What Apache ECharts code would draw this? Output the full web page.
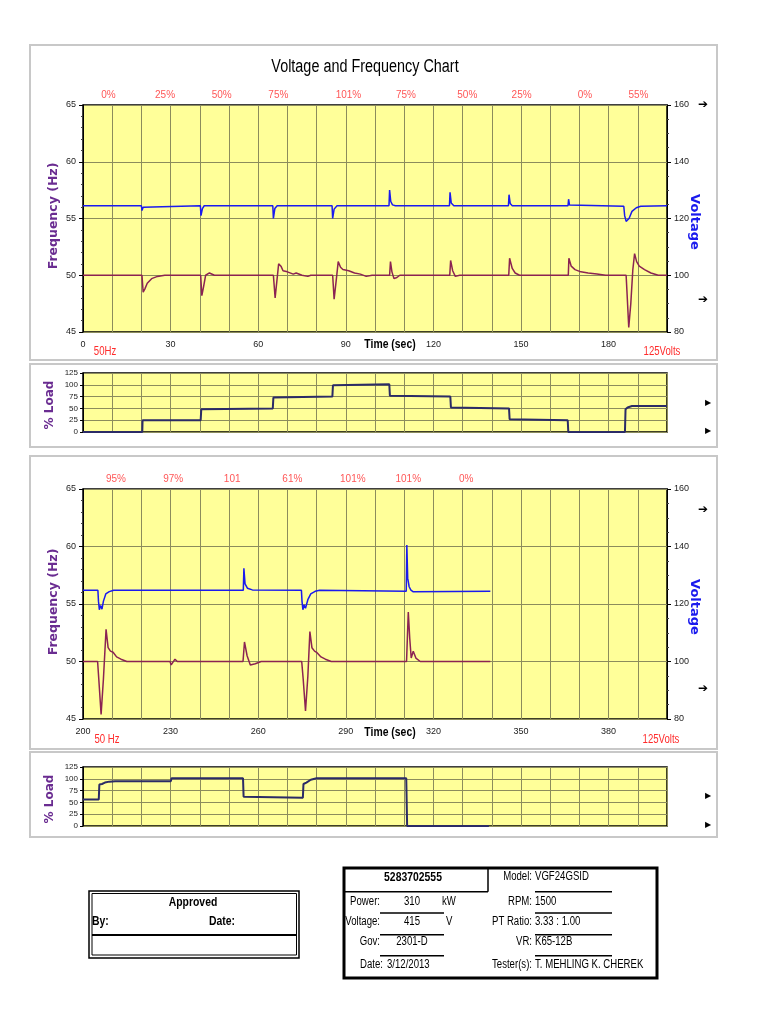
<!DOCTYPE html>
<html>
<head>
<meta charset="utf-8">
<script src="https://cdn.jsdelivr.net/npm/echarts@6/dist/echarts.min.js"></script>
<style>
  html, body { margin: 0; padding: 0; background: #fff; }
  #chart { width: 768px; height: 1024px; }
</style>
</head>
<body>
<div id="chart"></div>
<script>
// --- data ---
// frequency (Hz) and voltage (V) against time (s), first run 0-200 s
var freqTop = [
  [0, 50], [20.2, 50], [20.6, 48.5], [21.2, 48.8], [22, 49.3], [23.5, 49.7], [25.5, 49.9], [28, 50],
  [40.3, 50], [40.7, 48.2], [41.3, 49], [42, 50], [43.3, 50.2], [45, 50],
  [65.2, 50], [65.8, 48], [66.4, 49.5], [67, 51], [67.8, 50.8], [68.5, 50.4], [70, 50.3], [72, 50.1], [73, 50.2], [75, 50], [77, 49.9], [78, 50],
  [85.5, 50], [86, 47.9], [86.7, 49.5], [87.4, 51.2], [88.2, 50.7], [89, 50.5], [91, 50.4], [93, 50.2], [95, 50.1], [97, 49.9], [99, 50],
  [105, 50], [105.3, 51.2], [105.8, 50.3], [106.5, 49.7], [107.5, 49.8], [108.5, 50],
  [125.6, 50], [125.9, 51.3], [126.6, 50.4], [127.5, 49.9], [129, 50],
  [145.8, 50], [146.1, 51.5], [147, 50.6], [148, 50.2], [149.5, 50],
  [166.2, 50], [166.4, 51.5], [167.2, 50.8], [168.5, 50.5], [170.5, 50.3], [173, 50.2], [176, 50.1], [179, 50],
  [186, 50], [186.3, 48.5], [186.9, 45.4], [187.6, 47.5], [188.3, 50.5], [188.9, 51.9], [189.6, 51.2], [190.5, 50.8], [192.3, 50.5], [194.5, 50.2], [197, 50], [200, 50]
];
var voltTop = [
  [0, 124.5], [20, 124.5], [20.2, 122.8], [20.6, 124], [21, 124.5],
  [40.2, 124.5], [40.4, 121], [40.9, 123.5], [41.5, 124.5],
  [65, 124.5], [65.2, 120], [65.7, 123.5], [66.5, 124.5],
  [85.3, 124.5], [85.5, 120], [86, 123.3], [87, 124.5],
  [104.8, 124.5], [105, 130], [105.4, 126], [106, 124.8], [107, 124.5],
  [125.5, 124.5], [125.7, 129.2], [126.1, 125.5], [127, 124.5],
  [145.7, 124.5], [145.9, 128.4], [146.3, 125.3], [147, 124.5],
  [166.1, 124.5], [166.3, 126.8], [166.6, 124.8], [167, 124.3],
  [185.2, 124.3], [185.5, 121], [186, 119], [186.5, 118.5], [187, 120], [188, 122.5], [189.5, 123.8], [191, 124.3], [200, 124.5]
];
// % load, first run
var loadTop = [
  [0, 0], [20.3, 0], [20.4, 25], [40.3, 25], [40.5, 48], [41, 50], [65, 50], [65.2, 73], [65.7, 75],
  [85.4, 75], [85.6, 99], [86, 101], [104.9, 101], [105.1, 77], [105.6, 75], [125.8, 75], [126, 52], [126.5, 50],
  [145.9, 50], [146.1, 27], [146.5, 25], [166, 25], [166.2, 0], [185.6, 0], [185.8, 48], [186.5, 52], [188, 55], [200, 55]
];
// second run 200-400 s
var freqBottom = [
  [200, 50], [205, 50], [205.4, 48.5], [206.2, 45.4], [207, 48.5], [207.9, 52.8], [208.6, 51.2], [209.4, 50.9], [210.3, 50.8], [211.5, 50.4], [213, 50.2], [215, 50],
  [229.8, 50], [230.2, 49.7], [230.8, 49.8], [231.5, 50.2], [232.3, 50],
  [254.8, 50], [255.3, 51.7], [256.2, 50.5], [257.3, 49.7], [259, 49.8], [261, 50],
  [274.9, 50], [275.4, 48.5], [276.2, 45.7], [277, 48.7], [277.7, 52.6], [278.4, 51.2], [279.3, 50.9], [280, 50.8], [281.5, 50.4], [283, 50.2], [285, 50],
  [310.8, 50], [311.4, 54.3], [311.9, 52], [312.4, 50.3], [313.1, 50.9], [314, 50.3], [315.5, 50], [339.5, 50]
];
var voltBottom = [
  [200, 124.8], [205.1, 124.8], [205.3, 121], [205.6, 118], [206, 119.5], [206.5, 118.2], [207, 121], [207.8, 123.5], [209, 124.3], [210.5, 124.8],
  [229.9, 124.8], [230.1, 124.2], [230.4, 124.8],
  [254.9, 124.8], [255.1, 132.4], [255.5, 127], [256.3, 125.5], [258, 124.9],
  [274.8, 124.8], [275, 121], [275.3, 118], [275.7, 119.7], [276.2, 118.5], [277, 121.5], [278, 123.5], [279.5, 124.4], [281, 124.8],
  [310.7, 124.4], [310.9, 140.5], [311.2, 129], [311.7, 126], [312.3, 124.8], [313, 124.3], [339.5, 124.4]
];
var loadBottom = [
  [200, 56], [205.4, 56], [205.6, 88], [206.5, 89], [207.5, 92], [209, 94], [211, 95], [230.1, 95], [230.3, 101],
  [254.8, 101], [255, 62], [255.6, 60], [275.3, 60], [275.5, 89], [276.5, 92], [278, 98], [280, 101],
  [310.7, 101], [311, 0], [339, 0]
];
// load step notes printed above the plots
var pctTopText = ['0%', '25%', '50%', '75%', '101%', '75%', '50%', '25%', '0%', '55%'];
var pctTopTime = [8.7, 28.1, 47.5, 66.9, 90.9, 110.6, 131.6, 150.2, 171.9, 190.2];
var pctBottomText = ['95%', '97%', '101', '61%', '101%', '101%', '0%'];
var pctBottomTime = [211.3, 230.9, 251.1, 271.7, 292.4, 311.4, 331.2];

var SANS = "'Liberation Sans',Arial,sans-serif";
var HEAVY = "'DejaVu Sans',sans-serif";
var NARROW_X = 0.8; // squeeze Liberation Sans to look like the sheet's narrow face
var GRID_LINE = '#8c8c5c';
var FREQ_COLOR = '#8b2352';
var VOLT_COLOR = '#1a1aee';
var LOAD_COLOR = '#2b2b66';
var PURPLE = '#6a2c91';
var RED = '#ff2b2b';

function xAxisFor(grid, min, labels) {
  return {
    type: 'value', gridIndex: grid, min: min, max: min + 200, interval: 10,
    axisLine: { show: false }, axisTick: { show: false },
    axisLabel: {
      show: labels, margin: 8, color: '#222', fontSize: 9, fontFamily: SANS,
      formatter: function (v) { return (v - min) % 30 === 0 && v < min + 200 ? String(v) : ''; }
    },
    splitLine: { show: true, lineStyle: { color: GRID_LINE, width: 1 } }
  };
}
function freqAxis(grid) {
  return {
    type: 'value', gridIndex: grid, position: 'left', min: 45, max: 65, interval: 5,
    axisLine: { show: true, lineStyle: { color: '#000' } },
    axisTick: { show: true, length: 4, lineStyle: { color: '#000' } },
    minorTick: { show: true, splitNumber: 5, length: 2, lineStyle: { color: '#444' } },
    axisLabel: { margin: 7, fontSize: 9, color: '#222', fontFamily: SANS },
    splitLine: { show: true, lineStyle: { color: GRID_LINE, width: 1 } }
  };
}
function voltAxis(grid) {
  return {
    type: 'value', gridIndex: grid, position: 'right', min: 80, max: 160, interval: 20,
    axisLine: { show: true, lineStyle: { color: '#000' } },
    axisTick: { show: true, length: 4, lineStyle: { color: '#000' } },
    minorTick: { show: true, splitNumber: 4, length: 2, lineStyle: { color: '#444' } },
    axisLabel: { margin: 7, fontSize: 9, color: '#222', fontFamily: SANS },
    splitLine: { show: false }
  };
}
function loadAxis(grid) {
  return {
    type: 'value', gridIndex: grid, min: 0, max: 125, interval: 25,
    axisLine: { show: true, lineStyle: { color: '#000' } },
    axisTick: { show: true, length: 3, lineStyle: { color: '#000' } },
    axisLabel: { margin: 5, fontSize: 8, color: '#222', fontFamily: SANS },
    splitLine: { show: true, lineStyle: { color: GRID_LINE, width: 1 } }
  };
}
function trace(x, y, data, color, width) {
  return {
    type: 'line', xAxisIndex: x, yAxisIndex: y, data: data, showSymbol: false, symbol: 'none',
    lineStyle: { color: color, width: width }, itemStyle: { color: color }, z: 3, silent: true
  };
}
function notes(x, y, times, texts, level) {
  return {
    type: 'scatter', xAxisIndex: x, yAxisIndex: y, clip: false, symbolSize: 0, silent: true,
    data: times.map(function (t, i) { return { value: [t, level], name: texts[i] }; }),
    label: { show: true, position: 'inside', formatter: '{b}', color: RED, fontSize: 10, fontFamily: SANS }
  };
}

// graphic helpers (page furniture only)
function txt(x, y, text, o) {
  o = o || {};
  return {
    type: 'text', x: x, y: y, rotation: o.rot || 0, scaleX: o.sx || 1, z: 10, silent: true,
    style: { text: text, fill: o.color || '#000', font: o.font || ('12px ' + SANS),
      textAlign: o.align || 'left', textVerticalAlign: 'middle' }
  };
}
function narrow(x, y, text, o) {
  o = o || {};
  o.sx = NARROW_X;
  return txt(x, y, text, o);
}
function box(x, y, w, h, stroke, lw) {
  return { type: 'rect', z: 1, silent: true, shape: { x: x, y: y, width: w, height: h },
    style: { fill: 'none', stroke: stroke, lineWidth: lw } };
}
function rule(x1, y1, x2, y2, lw) {
  return { type: 'line', z: 1, silent: true, shape: { x1: x1, y1: y1, x2: x2, y2: y2 },
    style: { stroke: '#000', lineWidth: lw || 1.5 } };
}

var furniture = [
  box(30, 45, 687, 315, '#c8c8c8', 2),
  box(30, 364, 687, 83, '#c8c8c8', 2),
  box(30, 456, 687, 293, '#c8c8c8', 2),
  box(30, 752, 687, 85, '#c8c8c8', 2),
  narrow(365, 67, 'Voltage and Frequency Chart', { align: 'center', font: '18px ' + SANS }),
  // axis names
  txt(54, 216, 'Frequency (Hz)', { align: 'center', rot: Math.PI / 2, color: PURPLE, font: 'bold 12.5px ' + HEAVY }),
  txt(54, 602, 'Frequency (Hz)', { align: 'center', rot: Math.PI / 2, color: PURPLE, font: 'bold 12.5px ' + HEAVY }),
  txt(694, 222, 'Voltage', { align: 'center', rot: -Math.PI / 2, color: VOLT_COLOR, font: 'bold 13px ' + HEAVY }),
  txt(694, 607, 'Voltage', { align: 'center', rot: -Math.PI / 2, color: VOLT_COLOR, font: 'bold 13px ' + HEAVY }),
  txt(50, 405, '% Load', { align: 'center', rot: Math.PI / 2, color: PURPLE, font: 'bold 12px ' + HEAVY }),
  txt(50, 799, '% Load', { align: 'center', rot: Math.PI / 2, color: PURPLE, font: 'bold 12px ' + HEAVY }),
  narrow(390, 344, 'Time (sec)', { align: 'center', font: 'bold 13px ' + SANS }),
  narrow(390, 732, 'Time (sec)', { align: 'center', font: 'bold 13px ' + SANS }),
  narrow(105, 352, '50Hz', { align: 'center', color: RED, font: '12px ' + SANS }),
  narrow(107, 740, '50 Hz', { align: 'center', color: RED, font: '12px ' + SANS }),
  narrow(662, 352, '125Volts', { align: 'center', color: RED, font: '12px ' + SANS }),
  narrow(661, 740, '125Volts', { align: 'center', color: RED, font: '12px ' + SANS }),
  // right-hand markers
  txt(703, 105, '\u2794', { align: 'center', font: '12px ' + HEAVY }),
  txt(703, 300, '\u2794', { align: 'center', font: '12px ' + HEAVY }),
  txt(703, 510, '\u2794', { align: 'center', font: '12px ' + HEAVY }),
  txt(703, 689, '\u2794', { align: 'center', font: '12px ' + HEAVY }),
  txt(708, 403, '\u25B6', { align: 'center', font: '8px ' + HEAVY }),
  txt(708, 431, '\u25B6', { align: 'center', font: '8px ' + HEAVY }),
  txt(708, 796, '\u25B6', { align: 'center', font: '8px ' + HEAVY }),
  txt(708, 825, '\u25B6', { align: 'center', font: '8px ' + HEAVY }),
  // approval box
  box(89, 891, 210, 67, '#000', 1.5),
  box(92, 893.5, 204.5, 61.5, '#000', 1),
  rule(92, 935, 296.5, 935, 2),
  narrow(193, 902, 'Approved', { align: 'center', font: 'bold 13px ' + SANS }),
  narrow(92, 921, 'By:', { font: 'bold 13px ' + SANS }),
  narrow(209, 921, 'Date:', { font: 'bold 13px ' + SANS }),
  // generator info block
  box(344, 868, 313, 110, '#000', 3),
  rule(488, 868, 488, 891.7, 1.5),
  rule(344, 891.7, 488, 891.7, 1.5),
  narrow(413, 877, '5283702555', { align: 'center', font: 'bold 13px ' + SANS }),
  narrow(380, 902, 'Power:', { align: 'right' }),
  narrow(380, 922, 'Voltage:', { align: 'right' }),
  narrow(380, 941.7, 'Gov:', { align: 'right' }),
  narrow(383, 965, 'Date:', { align: 'right' }),
  narrow(412, 902, '310', { align: 'center' }),
  narrow(412, 922, '415', { align: 'center' }),
  narrow(412, 941.7, '2301-D', { align: 'center' }),
  narrow(387, 965, '3/12/2013'),
  narrow(442, 902, 'kW'),
  narrow(446, 922, 'V'),
  rule(380, 913, 444, 913), rule(380, 934.7, 444, 934.7), rule(380, 955.7, 444, 955.7),
  narrow(532, 877, 'Model:', { align: 'right' }),
  narrow(532, 902, 'RPM:', { align: 'right' }),
  narrow(532, 922, 'PT Ratio:', { align: 'right' }),
  narrow(532, 941.7, 'VR:', { align: 'right' }),
  narrow(532, 965, 'Tester(s):', { align: 'right' }),
  narrow(535, 877, 'VGF24GSID'),
  narrow(535, 902, '1500'),
  narrow(535, 922, '3.33 : 1.00'),
  narrow(535, 941.7, 'K65-12B'),
  narrow(535, 965, 'T. MEHLING K. CHEREK'),
  rule(535, 891.7, 612, 891.7), rule(535, 913, 612, 913), rule(535, 934.7, 612, 934.7), rule(535, 955.7, 612, 955.7)
];

var chart = echarts.init(document.getElementById('chart'), null, { renderer: 'canvas' });
var plotFrame = { show: true, backgroundColor: '#ffff99', borderColor: '#000', borderWidth: 1.5 };

chart.setOption({
  animation: false,
  backgroundColor: '#fff',
  grid: [
    Object.assign({ left: 83, top: 105, width: 584, height: 227 }, plotFrame),
    Object.assign({ left: 83, top: 373, width: 584, height: 59 }, plotFrame),
    Object.assign({ left: 83, top: 489, width: 584, height: 230 }, plotFrame),
    Object.assign({ left: 83, top: 767, width: 584, height: 59 }, plotFrame)
  ],
  xAxis: [
    xAxisFor(0, 0, true),
    xAxisFor(1, 0, false),
    xAxisFor(2, 200, true),
    xAxisFor(3, 200, false)
  ],
  yAxis: [
    freqAxis(0), voltAxis(0),
    loadAxis(1),
    freqAxis(2), voltAxis(2),
    loadAxis(3)
  ],
  series: [
    trace(0, 0, freqTop, FREQ_COLOR, 1.5),
    trace(0, 1, voltTop, VOLT_COLOR, 1.5),
    trace(1, 2, loadTop, LOAD_COLOR, 2),
    notes(0, 0, pctTopTime, pctTopText, 65.82),
    trace(2, 3, freqBottom, FREQ_COLOR, 1.5),
    trace(2, 4, voltBottom, VOLT_COLOR, 1.5),
    trace(3, 5, loadBottom, LOAD_COLOR, 2),
    notes(2, 3, pctBottomTime, pctBottomText, 65.87)
  ],
  graphic: { elements: furniture }
});
</script>
</body>
</html>
